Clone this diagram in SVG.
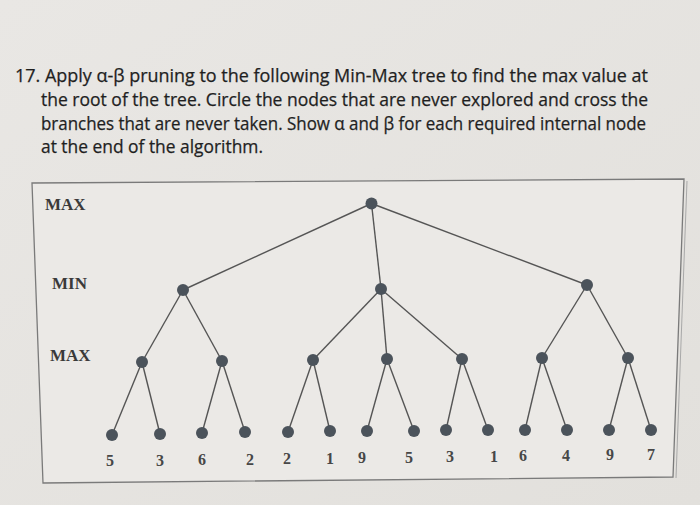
<svg xmlns="http://www.w3.org/2000/svg" width="700" height="505" viewBox="0 0 700 505">
<defs>
<linearGradient id="bg" x1="0" y1="0" x2="1" y2="1">
<stop offset="0" stop-color="#e9e7e4"/>
<stop offset="1" stop-color="#e2e0dc"/>
</linearGradient>
<style>
.q{font-family:"Open Sans","Noto Sans",sans-serif;font-size:17.5px;fill:#1f1f1f;stroke:#1f1f1f;stroke-width:0.25}
.lvl{font-family:"Liberation Serif",serif;font-size:17px;font-weight:bold;fill:#3a3a3a}
.num{font-family:"Liberation Serif",serif;font-size:16px;font-weight:bold;fill:#474747;text-anchor:middle}
.e{stroke:#555;stroke-width:1.4;fill:none}
.n{fill:#4b535b}
</style>
</defs>
<rect width="700" height="505" fill="url(#bg)"/>
<g id="question">
<text class="q" x="15" y="82" textLength="633" lengthAdjust="spacingAndGlyphs">17. Apply α-β pruning to the following Min-Max tree to find the max value at</text>
<text class="q" x="41" y="106" textLength="607" lengthAdjust="spacingAndGlyphs">the root of the tree. Circle the nodes that are never explored and cross the</text>
<text class="q" x="41" y="130" textLength="605" lengthAdjust="spacingAndGlyphs">branches that are never taken. Show α and β for each required internal node</text>
<text class="q" x="41" y="153" textLength="222" lengthAdjust="spacingAndGlyphs">at the end of the algorithm.</text>
</g>
<g id="frame">
<polygon points="32,183 684,179 673,477 43,483" fill="#ebe9e6" stroke="#7a7a7a" stroke-width="1.3"/>
<line x1="687" y1="181" x2="676" y2="478" stroke="#a8a8a8" stroke-width="1"/>
</g>
<g id="levels">
<text class="lvl" x="45" y="210">MAX</text>
<text class="lvl" x="52" y="289">MIN</text>
<text class="lvl" x="50" y="361">MAX</text>
</g>
<g id="connectors">
<line class="e" x1="371.5" y1="203.5" x2="183" y2="290"/>
<line class="e" x1="371.5" y1="203.5" x2="381" y2="289"/>
<line class="e" x1="371.5" y1="203.5" x2="587" y2="285"/>
<line class="e" x1="183" y1="290" x2="142" y2="362"/>
<line class="e" x1="183" y1="290" x2="222" y2="361"/>
<line class="e" x1="381" y1="289" x2="313" y2="360"/>
<line class="e" x1="381" y1="289" x2="387" y2="359"/>
<line class="e" x1="381" y1="289" x2="462" y2="359"/>
<line class="e" x1="587" y1="285" x2="542" y2="358"/>
<line class="e" x1="587" y1="285" x2="628" y2="358"/>
<line class="e" x1="142" y1="362" x2="112" y2="435"/>
<line class="e" x1="142" y1="362" x2="160" y2="434"/>
<line class="e" x1="222" y1="361" x2="202" y2="433"/>
<line class="e" x1="222" y1="361" x2="245" y2="432"/>
<line class="e" x1="313" y1="360" x2="288" y2="432"/>
<line class="e" x1="313" y1="360" x2="330" y2="431"/>
<line class="e" x1="387" y1="359" x2="367" y2="431"/>
<line class="e" x1="387" y1="359" x2="414" y2="431"/>
<line class="e" x1="462" y1="359" x2="446" y2="430"/>
<line class="e" x1="462" y1="359" x2="488" y2="430"/>
<line class="e" x1="542" y1="358" x2="525" y2="430"/>
<line class="e" x1="542" y1="358" x2="567" y2="430"/>
<line class="e" x1="628" y1="358" x2="609" y2="430"/>
<line class="e" x1="628" y1="358" x2="651" y2="430"/>
</g>
<g id="root"><circle class="n" cx="371.5" cy="203.5" r="6"/></g>
<g id="min1"><circle class="n" cx="183" cy="290" r="6"/></g>
<g id="min2"><circle class="n" cx="381" cy="289" r="6"/></g>
<g id="min3"><circle class="n" cx="587" cy="285" r="6"/></g>
<g id="max1"><circle class="n" cx="142" cy="362" r="6"/></g>
<g id="max2"><circle class="n" cx="222" cy="361" r="6"/></g>
<g id="max3"><circle class="n" cx="313" cy="360" r="6"/></g>
<g id="max4"><circle class="n" cx="387" cy="359" r="6"/></g>
<g id="max5"><circle class="n" cx="462" cy="359" r="6"/></g>
<g id="max6"><circle class="n" cx="542" cy="358" r="6"/></g>
<g id="max7"><circle class="n" cx="628" cy="358" r="6"/></g>
<g id="leaf1"><circle class="n" cx="112" cy="435" r="6"/><text class="num" x="110" y="466">5</text></g>
<g id="leaf2"><circle class="n" cx="160" cy="434" r="6"/><text class="num" x="160" y="466">3</text></g>
<g id="leaf3"><circle class="n" cx="202" cy="433" r="6"/><text class="num" x="202" y="465">6</text></g>
<g id="leaf4"><circle class="n" cx="245" cy="432" r="6"/><text class="num" x="250" y="465">2</text></g>
<g id="leaf5"><circle class="n" cx="288" cy="432" r="6"/><text class="num" x="287" y="464">2</text></g>
<g id="leaf6"><circle class="n" cx="330" cy="431" r="6"/><text class="num" x="330" y="464">1</text></g>
<g id="leaf7"><circle class="n" cx="367" cy="431" r="6"/><text class="num" x="362" y="463">9</text></g>
<g id="leaf8"><circle class="n" cx="414" cy="431" r="6"/><text class="num" x="409" y="463">5</text></g>
<g id="leaf9"><circle class="n" cx="446" cy="430" r="6"/><text class="num" x="450" y="462">3</text></g>
<g id="leaf10"><circle class="n" cx="488" cy="430" r="6"/><text class="num" x="494" y="462">1</text></g>
<g id="leaf11"><circle class="n" cx="525" cy="430" r="6"/><text class="num" x="523" y="461">6</text></g>
<g id="leaf12"><circle class="n" cx="567" cy="430" r="6"/><text class="num" x="566" y="461">4</text></g>
<g id="leaf13"><circle class="n" cx="609" cy="430" r="6"/><text class="num" x="610" y="460">9</text></g>
<g id="leaf14"><circle class="n" cx="651" cy="430" r="6"/><text class="num" x="651" y="460">7</text></g>
</svg>
